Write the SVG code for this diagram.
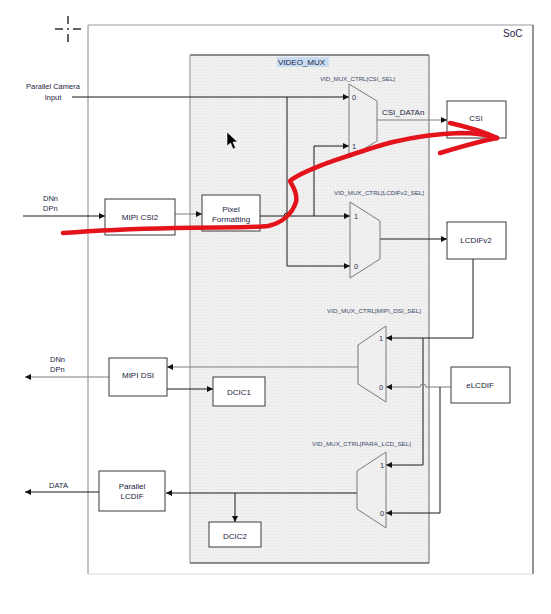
<svg xmlns="http://www.w3.org/2000/svg" width="551" height="614" viewBox="0 0 551 614">
<style>
.box{fill:#fff;stroke:#3a3a3a;stroke-width:1}
.lbl{font-family:"Liberation Sans",Arial,sans-serif;font-size:8px;fill:#1c2340}
.sm{font-family:"Liberation Sans",Arial,sans-serif;font-size:7.5px;fill:#1c2340}
.c{fill:none;stroke:#1a1a1a;stroke-width:1}
.g{fill:none;stroke:#808080;stroke-width:1}
.mux{fill:#efefef;stroke:#7a7a7a;stroke-width:1}
.sel{font-family:"Liberation Sans",Arial,sans-serif;font-size:5.5px;fill:#3b4a6b}
.pin{font-family:"Liberation Sans",Arial,sans-serif;font-size:7.5px;fill:#2a3350}
</style>
<defs>
<pattern id="dots" width="3" height="3" patternUnits="userSpaceOnUse"><rect width="3" height="3" fill="#f0f0f0"/><rect width="1" height="1" fill="#e3e3e3"/></pattern>
<marker id="ah" viewBox="0 0 10 10" refX="10" refY="5" markerWidth="8" markerHeight="6" markerUnits="userSpaceOnUse" orient="auto"><path d="M0,0 L10,5 L0,10 z" fill="#111"/></marker>
</defs>
<rect width="551" height="614" fill="#fff"/>

<g id="crosshair" stroke="#111" stroke-width="1.3">
<line x1="68" y1="16" x2="68" y2="24"/><line x1="68" y1="28" x2="68" y2="30"/><line x1="68" y1="34" x2="68" y2="42"/>
<line x1="55" y1="29" x2="63" y2="29"/><line x1="73" y1="29" x2="81" y2="29"/>
</g>

<g id="soc">
<line x1="88" y1="25" x2="88" y2="574" stroke="#8a8a8a"/>
<line x1="88" y1="25" x2="533" y2="25" stroke="#9a9a9a"/>
<line x1="533" y1="25" x2="533" y2="574" stroke="#2a2a2a"/>
<line x1="88" y1="574" x2="533" y2="574" stroke="#dcdcdc"/>
<text x="503" y="37" font-family="Liberation Sans, Arial, sans-serif" font-size="10" fill="#1c2340">SoC</text>
</g>

<g id="video_mux">
<rect x="190" y="55" width="239" height="508" fill="url(#dots)"/>
<line x1="190" y1="55" x2="429" y2="55" stroke="#222"/>
<line x1="190" y1="55" x2="190" y2="563" stroke="#8a8a8a"/>
<line x1="429" y1="55" x2="429" y2="563" stroke="#666"/>
<line x1="190" y1="563" x2="429" y2="563" stroke="#222"/>
<rect x="277" y="57" width="52" height="10" fill="#c9dcf2"/>
<text x="278" y="65" class="lbl" fill="#2a3a5a">VIDEO_MUX</text>
</g>

<g id="cursor">
<polygon points="227,132 227,146 230.5,143 233,149 235.5,148 233,142 237.5,142" fill="#000" stroke="#fff" stroke-width="0.6"/>
</g>

<g id="connectors">
<path class="c" d="M72,97 H349" marker-end="url(#ah)"/>
<path class="c" d="M23,216 H105" marker-end="url(#ah)"/>
<path class="g" d="M175,214 H202" marker-end="url(#ah)"/>
<path class="c" d="M260,216 H284 a3,3 0 0 1 6,0 H350" marker-end="url(#ah)"/>
<path class="c" d="M287,97 V266 H350" marker-end="url(#ah)"/>
<path class="c" d="M314,216 V146 H349" marker-end="url(#ah)"/>
<path class="g" d="M377,120 H447" marker-end="url(#ah)"/>
<path class="c" d="M380,239 H447" marker-end="url(#ah)"/>
<path class="c" d="M473,259 V338 H386" marker-end="url(#ah)"/>
<path class="c" d="M423,338 V465 H386" marker-end="url(#ah)"/>
<path class="g" d="M451,387 H426 a3,3 0 0 0 -6,0 H386" marker-end="url(#ah)"/>
<path class="c" d="M440,387 V513 H386" marker-end="url(#ah)"/>
<path class="g" d="M358,367 H167" marker-end="url(#ah)"/>
<path class="c" d="M167,389 H213" marker-end="url(#ah)"/>
<path class="g" d="M109,377 H25" marker-end="url(#ah)"/>
<path class="c" d="M357,493 H166" marker-end="url(#ah)"/>
<path class="c" d="M235,493 V522" marker-end="url(#ah)"/>
<path class="c" d="M99,492 H25" marker-end="url(#ah)"/>
</g>

<g id="labels">
<text x="53" y="89" class="sm" text-anchor="middle">Parallel Camera</text>
<text x="53" y="100" class="sm" text-anchor="middle">Input</text>
<text x="43" y="201" class="sm">DNn</text>
<text x="43" y="211" class="sm">DPn</text>
<text x="50" y="362" class="sm">DNn</text>
<text x="50" y="372" class="sm">DPn</text>
<text x="49" y="488" class="sm">DATA</text>
<text x="382" y="115" class="lbl">CSI_DATAn</text>
</g>

<g id="mipi_csi2"><rect class="box" x="105" y="199" width="70" height="36"/><text class="lbl" x="140" y="220" text-anchor="middle">MIPI CSI2</text></g>
<g id="pixel_formatting"><rect class="box" x="202" y="195" width="58" height="36"/><text class="lbl" x="231" y="211.5" text-anchor="middle">Pixel</text><text class="lbl" x="231" y="221.5" text-anchor="middle">Formatting</text></g>
<g id="csi"><rect class="box" x="447" y="101" width="59" height="37"/><text class="lbl" x="476" y="121" text-anchor="middle">CSI</text></g>
<g id="lcdifv2"><rect class="box" x="447" y="222" width="59" height="37"/><text class="lbl" x="476" y="243" text-anchor="middle">LCDIFv2</text></g>
<g id="elcdif"><rect class="box" x="451" y="367" width="59" height="36"/><text class="lbl" x="480" y="388" text-anchor="middle">eLCDIF</text></g>
<g id="mipi_dsi"><rect class="box" x="109" y="358" width="58" height="38"/><text class="lbl" x="138" y="378" text-anchor="middle">MIPI DSI</text></g>
<g id="dcic1"><rect class="box" x="213" y="377" width="52" height="29"/><text class="lbl" x="239" y="394.5" text-anchor="middle">DCIC1</text></g>
<g id="parallel_lcdif"><rect class="box" x="99" y="471" width="66" height="40"/><text class="lbl" x="132" y="488.5" text-anchor="middle">Parallel</text><text class="lbl" x="132" y="499" text-anchor="middle">LCDIF</text></g>
<g id="dcic2"><rect class="box" x="209" y="522" width="52" height="25"/><text class="lbl" x="235" y="538.5" text-anchor="middle">DCIC2</text></g>

<g id="mux_csi">
<polygon class="mux" points="349,84 377,101 377,141 349,158"/>
<text class="pin" x="352" y="100">0</text><text class="pin" x="352" y="149">1</text>
<text class="sel" x="320" y="81" textLength="75" lengthAdjust="spacingAndGlyphs">VID_MUX_CTRL[CSI_SEL]</text>
</g>
<g id="mux_lcdifv2">
<polygon class="mux" points="350,202 380,221 380,259 350,278"/>
<text class="pin" x="354" y="219">1</text><text class="pin" x="354" y="269">0</text>
<text class="sel" x="334" y="195" textLength="90" lengthAdjust="spacingAndGlyphs">VID_MUX_CTRL[LCDIFv2_SEL]</text>
</g>
<g id="mux_mipi_dsi">
<polygon class="mux" points="386,326 358,345 358,384 386,402"/>
<text class="pin" x="379" y="341" fill="#5a2a7a">1</text><text class="pin" x="379" y="390">0</text>
<text class="sel" x="327" y="313" textLength="94" lengthAdjust="spacingAndGlyphs">VID_MUX_CTRL[MIPI_DSI_SEL]</text>
</g>
<g id="mux_para_lcd">
<polygon class="mux" points="386,452 357,471 357,509 386,528"/>
<text class="pin" x="380" y="468">1</text><text class="pin" x="380" y="516">0</text>
<text class="sel" x="312" y="446" textLength="99" lengthAdjust="spacingAndGlyphs">VID_MUX_CTRL[PARA_LCD_SEL]</text>
</g>

<g id="annotation" fill="none" stroke="#e3121b" stroke-width="4.5" stroke-linecap="round" stroke-linejoin="round">
<path d="M63,233 C90,231 130,229 175,228 C215,227 250,228 268,226 C282,223 292,214 296,202 C298,192 292,186 290,181 C296,175 312,169 327,163 C345,157 370,148 393,142 C410,138 430,134 460,133 C475,133 488,135 497,138"/>
<path d="M450,123 C468,127 484,132 497,138"/>
<path d="M440,153 C460,147 480,141 497,138"/>
</g>
</svg>
